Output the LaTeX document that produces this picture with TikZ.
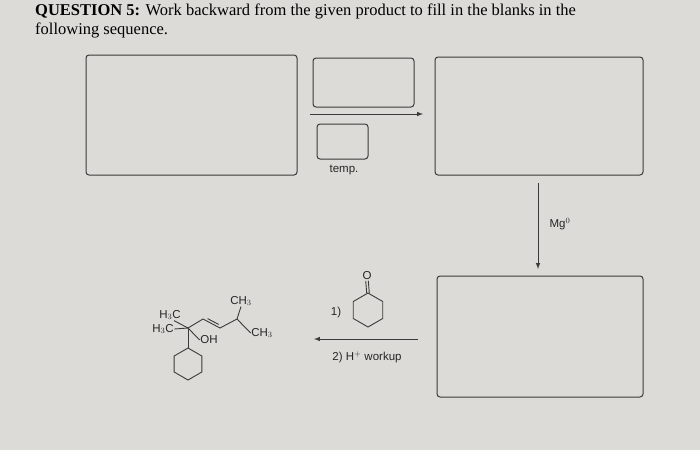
\documentclass[tikz,border=0pt]{standalone}
\usepackage{fontspec}
\usetikzlibrary{calc}
\setmainfont{Liberation Serif}
\setsansfont{Liberation Sans}
\definecolor{bg}{HTML}{DCDBD7}
\definecolor{ln}{HTML}{3A3A3A}
\begin{document}
\begin{tikzpicture}[x=1pt,y=-1pt,
  blank/.style={draw=ln,line width=1pt,rounded corners=3pt},
  bond/.style={draw=ln,line width=0.9pt},
  arr/.style={draw=ln,line width=1pt,-latex},
  lab/.style={font=\sffamily\fontsize{11.5}{13}\selectfont,text=black!85,inner sep=0.5pt}]
\fill[bg] (0,0) rectangle (700,450);
\node[anchor=north west,align=left,font=\fontsize{16.5}{19}\selectfont,inner sep=0] (title) at (35,4)
 {\textbf{QUESTION 5:} Work backward from the given product to fill in the blanks in the\\following sequence.};
% boxes
\draw[blank] (86,55) rectangle (297,175) coordinate (b1);
\draw[blank] (313,58) rectangle (414,107);
\draw[blank] (317,124) rectangle (368,159);
\draw[blank] (435,57) rectangle (643,175);
\draw[blank] (437,276) rectangle (643,397);
% arrows
\coordinate (a1s) at (310,114); \coordinate (a1e) at (423,114);
\draw[arr] (a1s) -- (a1e);
\node[lab] (temp) at (344,170) {temp.};
\coordinate (a2s) at (538,183); \coordinate (a2e) at (538,269);
\draw[arr] (a2s) -- (a2e);
\node[lab] (mg) at (560,224) {Mg$^0$};
\coordinate (a3s) at (418,339); \coordinate (a3e) at (314,339);
\draw[arr] (a3s) -- (a3e);
\node[lab] (one) at (336,313) {1)};
\node[lab] (two) at (367,357) {2) H$^{+}$ workup};
% cyclohexanone
\foreach \i in {0,...,5} \coordinate (k\i) at ({368+17*sin(60*\i)},{310-17*cos(60*\i)});
\draw[bond] (k0)--(k1)--(k2)--(k3)--(k4)--(k5)--cycle;
\node[lab] (O) at (367,276) {O};
\draw[bond] ([xshift=-1.3pt]k0) -- ([xshift=-1.3pt]O.south);
\draw[bond] ([xshift=1.3pt]k0) -- ([xshift=1.3pt]O.south);
% product molecule
\foreach \i in {0,...,5} \coordinate (r\i) at ({188+16*sin(60*\i)},{364-16*cos(60*\i)});
\draw[bond] (r0)--(r1)--(r2)--(r3)--(r4)--(r5)--cycle;
\coordinate (q) at (188,328);
\node[lab] (oh) at (209,340) {OH};
\node[lab] (m1) at (170,315) {H$_3$C};
\node[lab] (m2) at (163,329) {H$_3$C};
\coordinate (c1) at (203,319);
\coordinate (c2) at (220,328);
\coordinate (c3) at (237,319);
\node[lab] (m3) at (241,301) {CH$_3$};
\node[lab] (m4) at (262,333) {CH$_3$};
\draw[bond] (r0) -- (q);
\draw[bond] (q) -- (oh.west);
\draw[bond] (q) -- (m2.east);
\draw[bond] (q) -- ([xshift=4pt]m1.south);
\draw[bond] (q) -- (c1) -- (c2) -- (c3) -- (m3.south);
\draw[bond] ($(c1)!0.2!(c2)+(1.2,-2.2)$) -- ($(c1)!0.85!(c2)+(1.2,-2.2)$);
\draw[bond] (c3) -- (m4.west);
\end{tikzpicture}
\end{document}
